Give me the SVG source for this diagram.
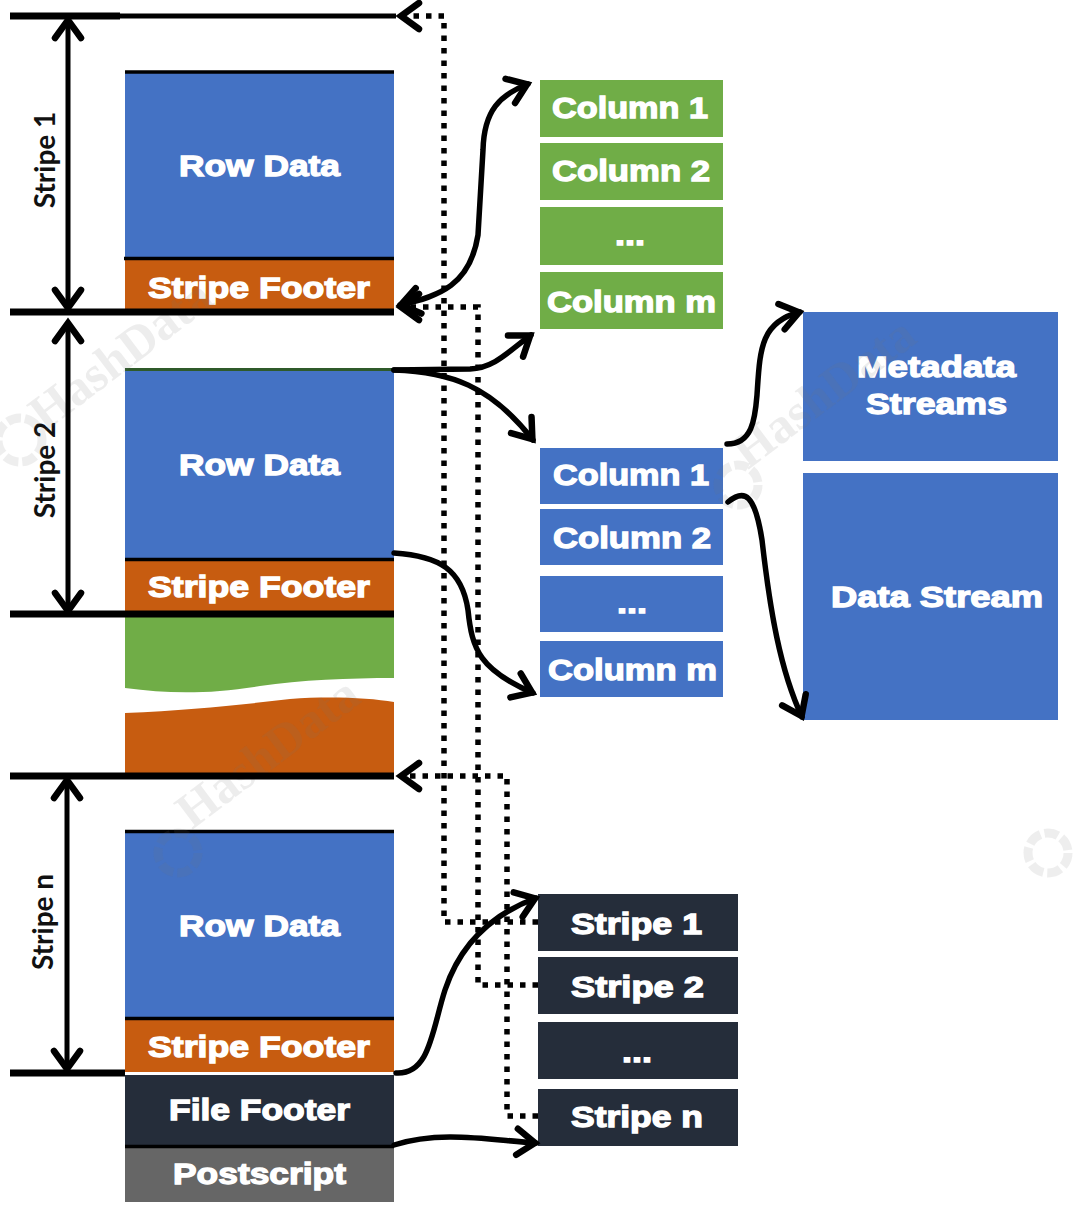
<svg xmlns="http://www.w3.org/2000/svg" width="1080" height="1213" viewBox="0 0 1080 1213">
<style>
.blue{fill:#4472c4}.green{fill:#70ad47}.orange{fill:#c75c10}.dark{fill:#252d3a}.gray{fill:#666666}
.t{font-family:"Liberation Sans",Arial,sans-serif;font-weight:700;font-size:30px;fill:#fff;stroke:#fff;stroke-width:1.3px}
.s{font-family:Lato,"Liberation Sans",sans-serif;font-weight:700;font-size:28px;fill:#111;text-anchor:middle}
.wm{font-family:"Liberation Serif",serif;font-weight:700;font-size:50px;fill:#777;fill-opacity:.13}
.ring{fill:none;stroke:#777;stroke-opacity:.12;stroke-width:9;stroke-dasharray:14 4}
.bar{stroke:#000;stroke-width:7;fill:none}
.thin{stroke:#000;stroke-width:3.5;fill:none}
.top{stroke:#000;stroke-width:5;fill:none}
.dim{stroke:#000;stroke-width:5;fill:none;marker-start:url(#open);marker-end:url(#open)}
.cur{stroke:#000;stroke-width:5.500;fill:none;stroke-linecap:round}
.dot{stroke:#000;stroke-width:5.500;fill:none;stroke-dasharray:5.500 7}
</style>
<defs>
<marker id="open" markerUnits="userSpaceOnUse" markerWidth="44" markerHeight="44" refX="36" refY="22" orient="auto-start-reverse">
<path d="M17 9 L35 22 L17 35" fill="none" stroke="#000" stroke-width="6.500" stroke-linecap="round" stroke-linejoin="miter"/>
</marker>
</defs>
<rect width="1080" height="1213" fill="#fff"/>
<g id="stripe-1">
<rect class="blue" x="125" y="72" width="269" height="187"/>
<rect class="orange" x="125" y="259" width="269" height="52"/>
<path class="thin" d="M125 72H394M124 258.500H394"/>
<text class="t" x="179" y="176" textLength="161" lengthAdjust="spacingAndGlyphs">Row Data</text>
<text class="t" x="148" y="298" textLength="222" lengthAdjust="spacingAndGlyphs">Stripe Footer</text>
</g>
<g id="stripe-2">
<rect class="blue" x="125" y="371" width="269" height="189"/>
<rect class="orange" x="125" y="560" width="269" height="53"/>
<path d="M125 369.500H394" stroke="#2f5a2a" stroke-width="3" fill="none"/>
<path class="thin" d="M125 559.500H394"/>
<text class="t" x="179" y="475" textLength="161" lengthAdjust="spacingAndGlyphs">Row Data</text>
<text class="t" x="148" y="597" textLength="222" lengthAdjust="spacingAndGlyphs">Stripe Footer</text>
</g>
<g id="gap">
<path class="green" d="M125 616H394V678C350 678 300 680 260 686C210 694 170 694 125 688Z"/>
<path class="orange" d="M125 713C190 710 240 705 290 699C330 696 370 698 394 702V775H125Z"/>
</g>
<g id="stripe-n">
<rect class="blue" x="125" y="832" width="269" height="187"/>
<rect class="orange" x="125" y="1019" width="269" height="53"/>
<path class="thin" d="M125 831.500H394M125 1018.500H394"/>
<text class="t" x="179" y="936" textLength="161" lengthAdjust="spacingAndGlyphs">Row Data</text>
<text class="t" x="148" y="1057" textLength="222" lengthAdjust="spacingAndGlyphs">Stripe Footer</text>
</g>
<g id="file-footer">
<rect class="dark" x="125" y="1075" width="269" height="71"/>
<text class="t" x="169" y="1120" textLength="181" lengthAdjust="spacingAndGlyphs">File Footer</text>
</g>
<g id="postscript">
<rect class="gray" x="125" y="1148" width="269" height="54"/>
<path class="thin" d="M125 1146.500H394"/>
<text class="t" x="173" y="1184" textLength="173" lengthAdjust="spacingAndGlyphs">Postscript</text>
</g>
<g id="green-columns">
<rect class="green" x="540" y="80" width="183" height="57"/>
<rect class="green" x="540" y="143" width="183" height="57"/>
<rect class="green" x="540" y="207" width="183" height="58"/>
<rect class="green" x="540" y="272" width="183" height="57"/>
<text class="t" x="552" y="118" textLength="156" lengthAdjust="spacingAndGlyphs">Column 1</text>
<text class="t" x="552" y="181" textLength="158" lengthAdjust="spacingAndGlyphs">Column 2</text>
<text class="t" x="615" y="245" textLength="30" lengthAdjust="spacingAndGlyphs">...</text>
<text class="t" x="547" y="312" textLength="169" lengthAdjust="spacingAndGlyphs">Column m</text>
</g>
<g id="blue-columns">
<rect class="blue" x="540" y="448" width="183" height="56"/>
<rect class="blue" x="540" y="509" width="183" height="56"/>
<rect class="blue" x="540" y="576" width="183" height="56"/>
<rect class="blue" x="540" y="641" width="183" height="56"/>
<text class="t" x="553" y="485" textLength="156" lengthAdjust="spacingAndGlyphs">Column 1</text>
<text class="t" x="553" y="548" textLength="158" lengthAdjust="spacingAndGlyphs">Column 2</text>
<text class="t" x="617" y="613" textLength="30" lengthAdjust="spacingAndGlyphs">...</text>
<text class="t" x="548" y="680" textLength="169" lengthAdjust="spacingAndGlyphs">Column m</text>
</g>
<g id="metadata-streams">
<rect class="blue" x="803" y="312" width="255" height="149"/>
<text class="t" x="857" y="377" textLength="159" lengthAdjust="spacingAndGlyphs">Metadata</text>
<text class="t" x="866" y="414" textLength="141" lengthAdjust="spacingAndGlyphs">Streams</text>
</g>
<g id="data-stream">
<rect class="blue" x="803" y="473" width="255" height="247"/>
<text class="t" x="831" y="607" textLength="212" lengthAdjust="spacingAndGlyphs">Data Stream</text>
</g>
<g id="stripe-index">
<rect class="dark" x="538" y="894" width="200" height="57"/>
<rect class="dark" x="538" y="957" width="200" height="57"/>
<rect class="dark" x="538" y="1022" width="200" height="57"/>
<rect class="dark" x="538" y="1089" width="200" height="57"/>
<text class="t" x="571" y="934" textLength="131" lengthAdjust="spacingAndGlyphs">Stripe 1</text>
<text class="t" x="571" y="997" textLength="133" lengthAdjust="spacingAndGlyphs">Stripe 2</text>
<text class="t" x="622" y="1062" textLength="30" lengthAdjust="spacingAndGlyphs">...</text>
<text class="t" x="571" y="1127" textLength="132" lengthAdjust="spacingAndGlyphs">Stripe n</text>
</g>
<g id="stripe-labels">
<text class="s" transform="translate(55 160) rotate(-90)">Stripe 1</text>
<text class="s" transform="translate(55 470) rotate(-90)">Stripe 2</text>
<text class="s" transform="translate(53 922) rotate(-90)">Stripe n</text>
</g>
<g id="watermark">
<circle class="ring" cx="20" cy="440" r="22"/>
<circle class="ring" cx="178" cy="853" r="20"/>
<circle class="ring" cx="738" cy="485" r="20"/>
<circle class="ring" cx="1048" cy="853" r="20"/>
<text class="wm" transform="translate(45 432) rotate(-37)">HashData</text>
<text class="wm" transform="translate(192 830) rotate(-37)">HashData</text>
<text class="wm" transform="translate(748 470) rotate(-37)">HashData</text>
</g>
<g id="connectors">
<path class="bar" d="M10 16H120"/>
<path class="top" d="M120 16H396"/>
<path class="bar" d="M10 312H394M10 614H394M10 776H394M10 1073H125"/>
<path class="dim" d="M68 19V309"/>
<path class="dim" d="M68 322V612"/>
<path class="dim" d="M67 779V1070"/>
<path class="dot" d="M538 922H444V16H400" marker-end="url(#open)"/>
<path class="dot" d="M538 985H478V307H400" marker-end="url(#open)"/>
<path class="dot" d="M538 1116H507V776H400" marker-end="url(#open)"/>
<path class="cur" d="M528 84C500 95 484 110 483 150L478 235C470 285 440 296 400 305" marker-start="url(#open)" marker-end="url(#open)"/>
<path class="cur" d="M394 370L470 369C495 368 510 350 531 335" marker-end="url(#open)"/>
<path class="cur" d="M394 370C450 372 490 385 533 440" marker-end="url(#open)"/>
<path class="cur" d="M394 553C440 556 462 570 468 610C472 650 480 670 533 693" marker-end="url(#open)"/>
<path class="cur" d="M727 444C752 444 755 420 757 395C760 350 760 322 800 312" marker-end="url(#open)"/>
<path class="cur" d="M728 502C745 488 755 495 762 540C770 610 780 670 802 717" marker-end="url(#open)"/>
<path class="cur" d="M396 1073C430 1075 432 1030 445 990C460 945 490 915 536 898" marker-end="url(#open)"/>
<path class="cur" d="M394 1145C440 1130 490 1140 536 1143" marker-end="url(#open)"/>
</g>
</svg>
